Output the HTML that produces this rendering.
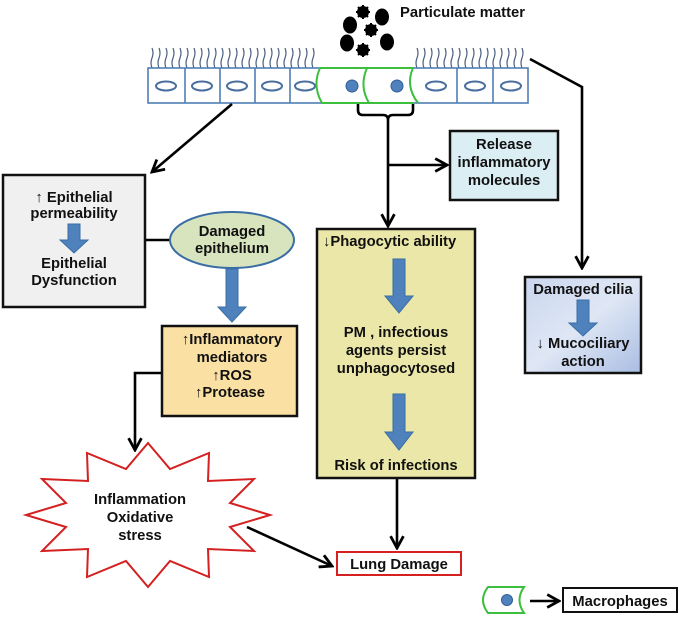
<!DOCTYPE html>
<html><head><meta charset="utf-8"><style>
html,body{margin:0;padding:0;background:#fff;}
svg{display:block;}
text{font-family:"Liberation Sans",Arial,sans-serif;font-weight:bold;font-size:14.8px;fill:#111;}
</style></head><body>
<svg width="685" height="620" viewBox="0 0 685 620" xmlns="http://www.w3.org/2000/svg">
<defs>
<marker id="ah" viewBox="0 0 14 14" refX="12" refY="7" markerWidth="15" markerHeight="15" markerUnits="userSpaceOnUse" orient="auto">
<path d="M1,1 L12,7 L1,13" fill="none" stroke="#000" stroke-width="2.6"/>
</marker>
<linearGradient id="cg" x1="0" y1="0" x2="1" y2="1"><stop offset="0" stop-color="#c9d6ee"/><stop offset="0.5" stop-color="#dfe7f5"/><stop offset="1" stop-color="#a9bde3"/></linearGradient>
</defs>

<!-- cilia -->
<g stroke="#4a5f7f" stroke-width="1.2" fill="none">
<path d="M152,68q-2,-5 0,-10q2,-5 0,-10 M159,68q-2,-5 0,-10q2,-5 0,-10 M166,68q-2,-5 0,-10q2,-5 0,-10 M173,68q-2,-5 0,-10q2,-5 0,-10 M180,68q-2,-5 0,-10q2,-5 0,-10 M187,68q-2,-5 0,-10q2,-5 0,-10 M194,68q-2,-5 0,-10q2,-5 0,-10 M201,68q-2,-5 0,-10q2,-5 0,-10 M208,68q-2,-5 0,-10q2,-5 0,-10 M215,68q-2,-5 0,-10q2,-5 0,-10 M222,68q-2,-5 0,-10q2,-5 0,-10 M229,68q-2,-5 0,-10q2,-5 0,-10 M236,68q-2,-5 0,-10q2,-5 0,-10 M243,68q-2,-5 0,-10q2,-5 0,-10 M250,68q-2,-5 0,-10q2,-5 0,-10 M257,68q-2,-5 0,-10q2,-5 0,-10 M264,68q-2,-5 0,-10q2,-5 0,-10 M271,68q-2,-5 0,-10q2,-5 0,-10 M278,68q-2,-5 0,-10q2,-5 0,-10 M285,68q-2,-5 0,-10q2,-5 0,-10 M292,68q-2,-5 0,-10q2,-5 0,-10 M299,68q-2,-5 0,-10q2,-5 0,-10 M306,68q-2,-5 0,-10q2,-5 0,-10 M313,68q-2,-5 0,-10q2,-5 0,-10
M417,68q-2,-5 0,-10q2,-5 0,-10 M424,68q-2,-5 0,-10q2,-5 0,-10 M431,68q-2,-5 0,-10q2,-5 0,-10 M438,68q-2,-5 0,-10q2,-5 0,-10 M445,68q-2,-5 0,-10q2,-5 0,-10 M452,68q-2,-5 0,-10q2,-5 0,-10 M459,68q-2,-5 0,-10q2,-5 0,-10 M466,68q-2,-5 0,-10q2,-5 0,-10 M473,68q-2,-5 0,-10q2,-5 0,-10 M480,68q-2,-5 0,-10q2,-5 0,-10 M487,68q-2,-5 0,-10q2,-5 0,-10 M494,68q-2,-5 0,-10q2,-5 0,-10 M501,68q-2,-5 0,-10q2,-5 0,-10 M508,68q-2,-5 0,-10q2,-5 0,-10 M515,68q-2,-5 0,-10q2,-5 0,-10 M522,68q-2,-5 0,-10q2,-5 0,-10"/>
</g>

<!-- cell row -->
<g stroke="#4f7fb5" stroke-width="1.6" fill="#fff">
<rect x="148" y="68" width="380" height="35"/>
<line x1="185" y1="68" x2="185" y2="103"/><line x1="220" y1="68" x2="220" y2="103"/>
<line x1="255" y1="68" x2="255" y2="103"/><line x1="290" y1="68" x2="290" y2="103"/>
<line x1="457" y1="68" x2="457" y2="103"/><line x1="493" y1="68" x2="493" y2="103"/>
</g>
<rect x="322" y="67" width="91" height="37" fill="#fff"/>
<g fill="none" stroke="#4a6f9f" stroke-width="2">
<ellipse cx="166" cy="86" rx="10" ry="4.5"/><ellipse cx="202" cy="86" rx="10" ry="4.5"/>
<ellipse cx="237" cy="86" rx="10" ry="4.5"/><ellipse cx="272" cy="86" rx="10" ry="4.5"/>
<ellipse cx="305" cy="86" rx="10" ry="4.5"/><ellipse cx="436" cy="86" rx="10" ry="4.5"/>
<ellipse cx="475" cy="86" rx="10" ry="4.5"/><ellipse cx="511" cy="86" rx="10" ry="4.5"/>
</g>
<g fill="none" stroke="#3cbf3c" stroke-width="2">
<path d="M320,68 Q312,86 322,103 L413,103"/>
<path d="M320,68 L413,68"/>
<path d="M367,68 Q359,86 369,103"/>
<path d="M413,68 Q405,86 418,103"/>
</g>
<circle cx="352" cy="86" r="6" fill="#4f81bd" stroke="#2f5f99"/>
<circle cx="397" cy="86" r="6" fill="#4f81bd" stroke="#2f5f99"/>

<!-- particles -->
<g fill="#000">
<ellipse cx="382" cy="17" rx="7" ry="8.5"/><ellipse cx="350" cy="25" rx="7" ry="8.5"/>
<ellipse cx="347" cy="43" rx="7" ry="8.5"/><ellipse cx="387" cy="42" rx="7" ry="8.5"/>
<circle cx="363" cy="12" r="6"/><circle cx="371" cy="30" r="6"/><circle cx="363" cy="50" r="6"/>
</g>
<g stroke="#000" stroke-width="2">
<path d="M356,12h14M363,5v14M358,7l10,10M368,7l-10,10"/>
<path d="M364,30h14M371,23v14M366,25l10,10M376,25l-10,10"/>
<path d="M356,50h14M363,43v14M358,45l10,10M368,45l-10,10"/>
</g>
<text x="400" y="17" font-size="15.5">Particulate matter</text>

<!-- connectors -->
<g stroke="#000" stroke-width="2.6" fill="none">
<line x1="232" y1="104" x2="152" y2="172" marker-end="url(#ah)"/>
<path d="M358,104 v6 q0,5 5,5 h20 q5,0 5,5 q0,-5 5,-5 h15 q5,0 5,-5 v-6"/>
<line x1="388" y1="120" x2="388" y2="226" marker-end="url(#ah)"/>
<line x1="388" y1="165" x2="447" y2="165" marker-end="url(#ah)"/>
<polyline points="530,59 582,87 582,268" marker-end="url(#ah)"/>
<line x1="145" y1="240" x2="172" y2="240"/>
<polyline points="162,373 135,373 135,450" marker-end="url(#ah)"/>
<line x1="397" y1="478" x2="397" y2="548" marker-end="url(#ah)"/>
<line x1="247" y1="527" x2="332" y2="566" marker-end="url(#ah)"/>
<line x1="530" y1="601" x2="559" y2="601" marker-end="url(#ah)"/>
</g>

<!-- left box -->
<rect x="3" y="175" width="142" height="132" fill="#f0f0f0" stroke="#111" stroke-width="2.5"/>
<text x="74" y="202" text-anchor="middle">↑ Epithelial</text>
<text x="74" y="218" text-anchor="middle">permeability</text>
<polygon points="68,224 80,224 80,240 88,240 74,253 60,240 68,240" fill="#4f81bd" stroke="#3a6ea5"/>
<text x="74" y="268" text-anchor="middle">Epithelial</text>
<text x="74" y="285" text-anchor="middle">Dysfunction</text>

<!-- ellipse -->
<ellipse cx="232" cy="240" rx="62" ry="28" fill="#d7e4bd" stroke="#3a6ea5" stroke-width="2"/>
<text x="232" y="236" text-anchor="middle">Damaged</text>
<text x="232" y="253" text-anchor="middle">epithelium</text>
<polygon points="226,269 238,269 238,307 246,307 232,322 218,307 226,307" fill="#4f81bd" stroke="#3a6ea5"/>

<!-- yellow box -->
<rect x="162" y="326" width="135" height="90" fill="#fbe0a3" stroke="#111" stroke-width="2.5"/>
<text x="232" y="344" text-anchor="middle">↑Inflammatory</text>
<text x="232" y="362" text-anchor="middle">mediators</text>
<text x="232" y="380" text-anchor="middle">↑ROS</text>
<text x="230" y="397" text-anchor="middle">↑Protease</text>

<!-- star -->
<polygon points="270,515 230,527 254,551 208,549 209,577 170,561 148,587 126,561 87,577 88,549 42,551 66,527 26,515 66,503 42,479 88,481 87,453 126,469 148,443 170,469 209,453 208,481 254,479 230,503" fill="#fff" stroke="#d42020" stroke-width="2"/>
<text x="140" y="504" text-anchor="middle">Inflammation</text>
<text x="140" y="522" text-anchor="middle">Oxidative</text>
<text x="140" y="540" text-anchor="middle">stress</text>

<!-- release box -->
<rect x="450" y="131" width="108" height="69" fill="#dbeef4" stroke="#111" stroke-width="2.5"/>
<text x="504" y="149" text-anchor="middle">Release</text>
<text x="504" y="167" text-anchor="middle">inflammatory</text>
<text x="504" y="185" text-anchor="middle">molecules</text>

<!-- tall box -->
<rect x="317" y="229" width="158" height="249" fill="#ebe7a8" stroke="#111" stroke-width="2.5"/>
<text x="323" y="246">↓Phagocytic ability</text>
<polygon points="393,259 405,259 405,296 413,296 399,313 385,296 393,296" fill="#4f81bd" stroke="#3a6ea5"/>
<text x="396" y="337" text-anchor="middle">PM , infectious</text>
<text x="396" y="355" text-anchor="middle">agents persist</text>
<text x="396" y="373" text-anchor="middle">unphagocytosed</text>
<polygon points="393,394 405,394 405,432 413,432 399,450 385,432 393,432" fill="#4f81bd" stroke="#3a6ea5"/>
<text x="396" y="470" text-anchor="middle">Risk of infections</text>

<!-- cilia box -->
<rect x="525" y="277" width="116" height="96" fill="url(#cg)" stroke="#111" stroke-width="2.5"/>
<text x="583" y="294" text-anchor="middle">Damaged cilia</text>
<polygon points="577,300 589,300 589,323 597,323 583,336 569,323 577,323" fill="#4f81bd" stroke="#3a6ea5"/>
<text x="583" y="348" text-anchor="middle">↓ Mucociliary</text>
<text x="583" y="366" text-anchor="middle">action</text>

<!-- lung damage -->
<rect x="337" y="552" width="124" height="23" fill="#fff" stroke="#d42020" stroke-width="2"/>
<text x="399" y="569" text-anchor="middle">Lung Damage</text>

<!-- legend -->
<path d="M488,587 L524,587 Q515,600 524,613 L488,613 Q478,600 488,587 Z" fill="#fff" stroke="#3cbf3c" stroke-width="2"/>
<circle cx="507" cy="600" r="5.5" fill="#4f81bd" stroke="#2f5f99"/>
<rect x="563" y="588" width="114" height="24" fill="#fff" stroke="#111" stroke-width="2"/>
<text x="620" y="606" text-anchor="middle">Macrophages</text>
</svg>
</body></html>
